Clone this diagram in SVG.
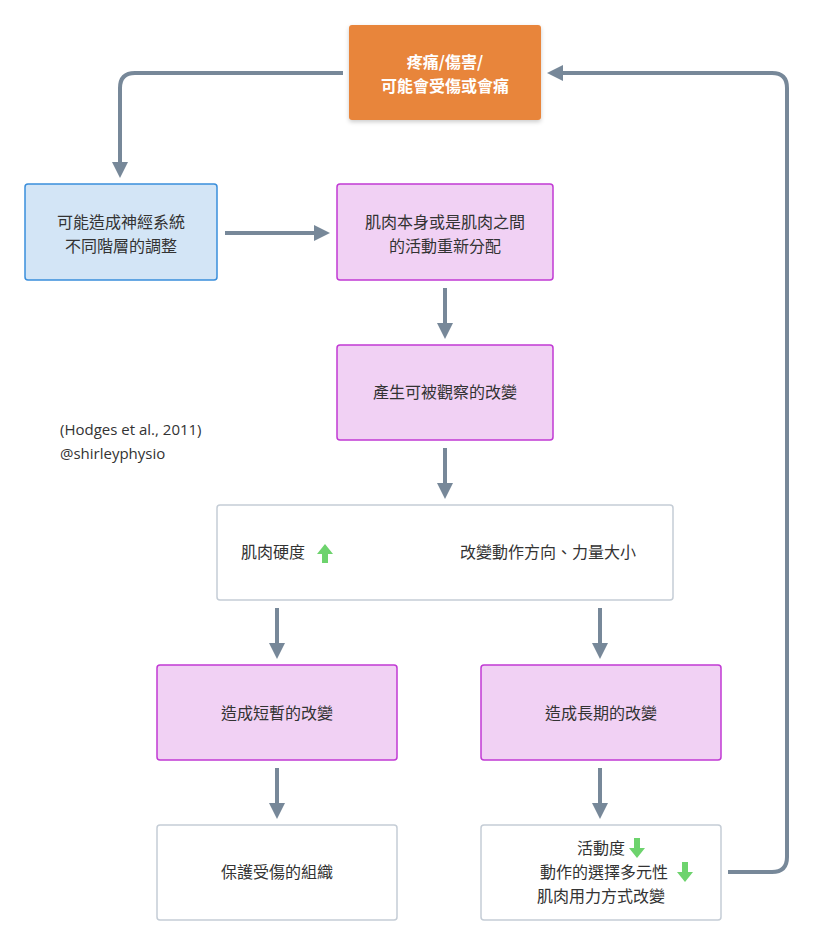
<svg xmlns="http://www.w3.org/2000/svg" width="816" height="946" viewBox="0 0 816 946">
<style>
text{font-family:"Noto Sans CJK TC","Noto Sans CJK SC",sans-serif;font-size:16px;fill:#333;text-anchor:middle}
.c{fill:none;stroke:#778899;stroke-width:4}
.p{fill:#f1d1f4;stroke:#c13ad4;stroke-width:1.5}
.w{fill:#fff;stroke:#c5cdd6;stroke-width:1.5}
.g{fill:#6dd36d}
</style>
<defs>
<marker id="a" markerWidth="4" markerHeight="4" refX="2" refY="2" orient="auto" markerUnits="strokeWidth" viewBox="0 0 4 4"><path d="M0,0L4,2L0,4z" fill="#778899"/></marker>
<filter id="s" x="-10%" y="-10%" width="120%" height="130%"><feDropShadow dx="0" dy="2" stdDeviation="2" flood-opacity="0.2"/></filter>
</defs>
<g id="connectors">
<path class="c" d="M343,73H135Q120,73 120,88V170" marker-end="url(#a)"/>
<path class="c" d="M225,233H322" marker-end="url(#a)"/>
<path class="c" d="M445,288V331" marker-end="url(#a)"/>
<path class="c" d="M445,448V491" marker-end="url(#a)"/>
<path class="c" d="M277,608V651" marker-end="url(#a)"/>
<path class="c" d="M600,608V651" marker-end="url(#a)"/>
<path class="c" d="M277,768V811" marker-end="url(#a)"/>
<path class="c" d="M600,768V811" marker-end="url(#a)"/>
<path class="c" d="M728,872H772Q787,872 787,857V88Q787,73 772,73H555" marker-end="url(#a)"/>
</g>
<g id="n1"><rect x="349" y="25" width="192" height="95" rx="3" fill="#e8853a" filter="url(#s)"/>
<text x="445" y="68" style="fill:#fff;font-weight:bold">疼痛/傷害/</text><text x="445" y="92" style="fill:#fff;font-weight:bold">可能會受傷或會痛</text></g>
<g id="n2"><rect x="25" y="184" width="192" height="96" rx="3" fill="#d3e5f6" stroke="#3a8edb" stroke-width="1.5"/>
<text x="121" y="228">可能造成神經系統</text><text x="121" y="252">不同階層的調整</text></g>
<g id="n3"><rect class="p" x="337" y="184" width="216" height="96" rx="3"/>
<text x="445" y="228">肌肉本身或是肌肉之間</text><text x="445" y="252">的活動重新分配</text></g>
<g id="n4"><rect class="p" x="337" y="345" width="216" height="95" rx="3"/>
<text x="445" y="398">產生可被觀察的改變</text></g>
<g id="cite"><text x="60" y="435" style="text-anchor:start;font-family:'Open Sans','DejaVu Sans',sans-serif;font-size:15px">(Hodges et al., 2011)</text>
<text x="60" y="459" style="text-anchor:start;font-family:'Open Sans','DejaVu Sans',sans-serif;font-size:15px">@shirleyphysio</text></g>
<g id="n5"><rect class="w" x="217" y="505" width="456" height="95" rx="3"/>
<text x="273" y="558">肌肉硬度</text><path class="g" d="M325,544L333,554H328V563H322V554H317z"/>
<text x="548" y="558">改變動作方向、力量大小</text></g>
<g id="n6"><rect class="p" x="157" y="665" width="240" height="95" rx="3"/><text x="277" y="719">造成短暫的改變</text></g>
<g id="n7"><rect class="p" x="481" y="665" width="240" height="95" rx="3"/><text x="601" y="719">造成長期的改變</text></g>
<g id="n8"><rect class="w" x="157" y="825" width="240" height="95" rx="3"/><text x="277" y="878">保護受傷的組織</text></g>
<g id="n9"><rect class="w" x="481" y="825" width="240" height="95" rx="3"/>
<text x="601" y="854">活動度</text><path class="g" d="M634,838H640V848H645L637,858L629,848H634z"/>
<text x="604" y="878">動作的選擇多元性</text><path class="g" d="M682,862H688V872H693L685,882L677,872H682z"/>
<text x="601" y="902">肌肉用力方式改變</text></g>
</svg>
